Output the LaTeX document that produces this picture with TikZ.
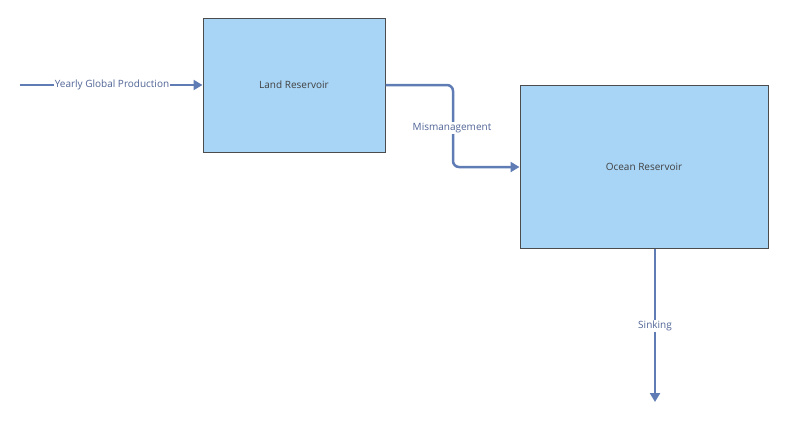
\documentclass[tikz,border=0pt]{standalone}
\usepackage{fontspec}
\setmainfont{Open Sans}
\usetikzlibrary{arrows.meta}
\begin{document}
\begin{tikzpicture}[x=1pt,y=-1pt,
  box/.style={draw=black!70,line width=1pt,fill={rgb,255:red,168;green,212;blue,245},inner sep=0pt,font=\fontsize{10}{12}\selectfont,text=black!75},
  flow/.style={draw={rgb,255:red,95;green,125;blue,180},line width=2.5pt,rounded corners=6pt,-{Triangle[length=9pt,width=10pt]}},
  lbl/.style={text={rgb,255:red,80;green,100;blue,150},font=\fontsize{10}{12}\selectfont,fill=white,inner sep=1pt}]
\useasboundingbox (0,0) rectangle (800,421);
\node[box,minimum width=182pt,minimum height=134pt] (land) at (294,85) {Land Reservoir};
\node[box,minimum width=248pt,minimum height=163pt] (ocean) at (644,167) {Ocean Reservoir};
\coordinate (in) at (20,85);
\coordinate (sink) at (655,402);
\draw[flow] (in) -- (land.west);
\node[lbl] (yl) at (112,85) {Yearly Global Production};
\draw[flow] (land.east |- 0,85) -- (453,85) -- (453,167) -- (ocean.west);
\node[lbl] (ml) at (452,128) {Mismanagement};
\draw[flow,rounded corners=0pt] (655,248.5) -- (sink);
\node[lbl] (sl) at (655,326) {Sinking};
\end{tikzpicture}
\end{document}
